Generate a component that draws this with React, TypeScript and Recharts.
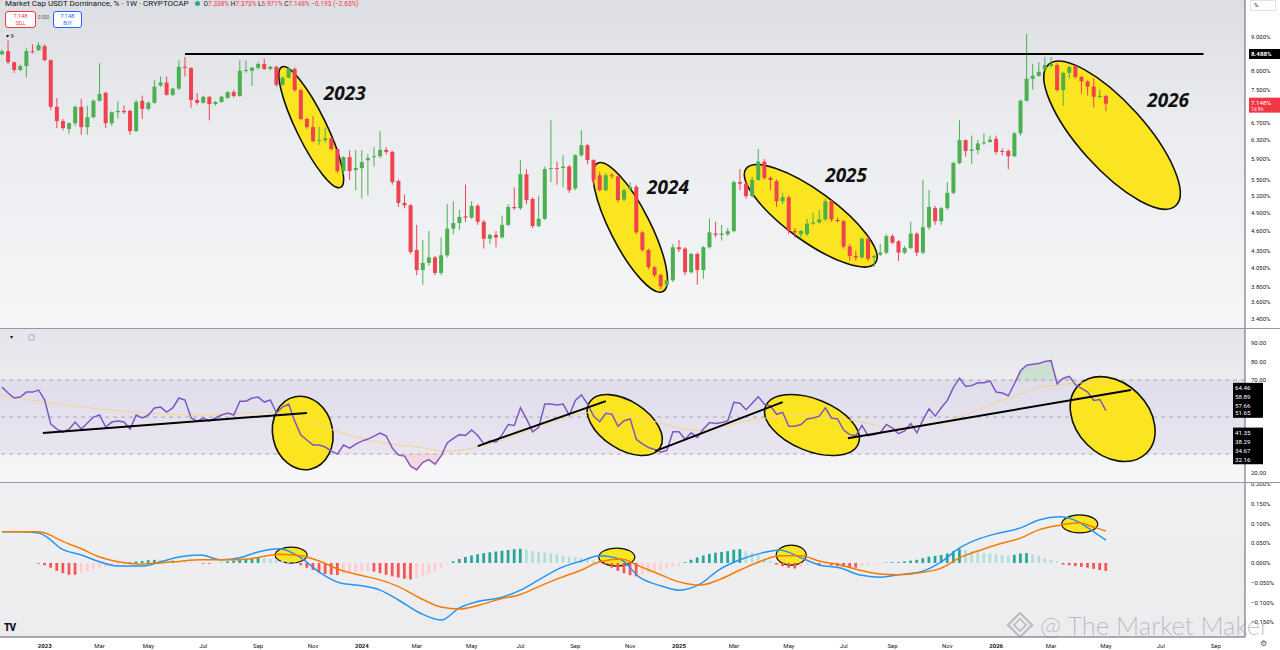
import React from "react";
import {
  Area,
  Bar,
  Cell,
  ComposedChart,
  Line,
  ReferenceArea,
  ReferenceDot,
  ReferenceLine,
  XAxis,
  YAxis,
} from "recharts";

// weekly bars, week 0 = 2 Jan 2023, first row = week -7 (14 Nov 2022)
const FIRST_WEEK = -7;

// [open, high, low, close] in %
const ohlc: [number, number, number, number][] = [
  [8.48, 8.62, 8.45, 8.57], [8.57, 8.9, 8.2, 8.25], [8.25, 8.27, 7.95, 8.03], [8.03, 8.18, 8.0, 8.14],
  [8.14, 8.66, 7.82, 8.57], [8.57, 8.78, 8.5, 8.54], [8.6, 8.84, 8.58, 8.75],
  [8.72, 8.78, 8.28, 8.31], [8.31, 8.33, 6.99, 7.07], [7.07, 7.29, 6.57, 6.73], [6.73, 6.78, 6.52, 6.57],
  [6.55, 6.7, 6.44, 6.68], [6.68, 7.1, 6.62, 7.07], [7.07, 7.27, 6.42, 6.59], [6.59, 7.1, 6.42, 6.82],
  [6.82, 7.25, 6.8, 7.22], [7.22, 8.22, 7.2, 7.39], [7.42, 7.45, 6.57, 6.68], [6.68, 6.96, 6.62, 6.94],
  [6.94, 7.2, 6.8, 6.97], [6.97, 7.1, 6.9, 6.94], [6.97, 7.0, 6.42, 6.5], [6.5, 7.24, 6.48, 7.19],
  [7.22, 7.35, 6.78, 7.02], [7.02, 7.2, 6.98, 7.17], [7.17, 7.75, 7.15, 7.58], [7.61, 7.85, 7.58, 7.69],
  [7.69, 7.85, 7.35, 7.37], [7.37, 7.55, 7.34, 7.53], [7.53, 8.3, 7.5, 8.12], [8.12, 8.4, 7.85, 8.09],
  [8.09, 8.1, 7.05, 7.24], [7.24, 7.42, 7.12, 7.17], [7.17, 7.35, 7.15, 7.32], [7.32, 7.33, 6.75, 7.14],
  [7.14, 7.21, 7.1, 7.19], [7.19, 7.34, 7.17, 7.32], [7.29, 7.46, 7.27, 7.44], [7.44, 7.5, 7.3, 7.34],
  [7.34, 8.3, 7.32, 8.01], [8.01, 8.3, 7.95, 8.03], [8.01, 8.12, 7.6, 8.09], [8.09, 8.25, 8.05, 8.2],
  [8.2, 8.35, 8.03, 8.06], [8.06, 8.14, 8.02, 8.12], [8.12, 8.15, 7.58, 7.63], [7.63, 7.85, 7.6, 7.82],
  [7.82, 8.12, 7.8, 8.06], [8.06, 8.1, 7.45, 7.49], [7.49, 7.52, 6.75, 6.78], [6.78, 6.8, 6.55, 6.59],
  [6.59, 6.85, 6.25, 6.28], [6.28, 6.6, 6.2, 6.3], [6.3, 6.58, 6.25, 6.34], [6.34, 6.37, 6.08, 6.11],
  [6.11, 6.13, 5.62, 5.66], [5.66, 5.96, 5.6, 5.94], [5.94, 6.08, 5.49, 5.66], [5.68, 6.09, 5.3, 5.72],
  [5.72, 6.09, 5.15, 5.84], [5.88, 6.0, 5.2, 5.92], [5.94, 6.15, 5.75, 5.96], [5.96, 6.5, 5.92, 6.09],
  [6.09, 6.15, 6.0, 6.05], [6.05, 6.07, 5.4, 5.45], [5.47, 5.5, 5.0, 5.07], [5.07, 5.22, 4.98, 5.03],
  [5.03, 5.05, 4.25, 4.28], [4.31, 4.7, 3.95, 4.02], [4.02, 4.46, 3.82, 4.12], [4.12, 4.6, 4.08, 4.2],
  [4.2, 4.22, 3.95, 3.98], [3.98, 4.5, 3.95, 4.23], [4.23, 5.05, 4.2, 4.64], [4.64, 5.1, 4.55, 4.73],
  [4.73, 4.95, 4.62, 4.83], [4.84, 5.4, 4.75, 4.82], [4.82, 5.1, 4.8, 5.02], [5.02, 5.05, 4.7, 4.75],
  [4.75, 4.78, 4.33, 4.48], [4.48, 4.56, 4.4, 4.54], [4.54, 4.6, 4.35, 4.5], [4.5, 4.85, 4.48, 4.7],
  [4.7, 5.05, 4.68, 5.0], [5.0, 5.35, 4.95, 4.98], [4.98, 5.88, 4.95, 5.6], [5.6, 5.7, 5.05, 5.12],
  [5.14, 5.17, 4.65, 4.68], [4.68, 5.2, 4.66, 4.8], [4.8, 5.75, 4.78, 5.7], [5.7, 6.75, 5.45, 5.72],
  [5.72, 5.85, 5.4, 5.7], [5.72, 5.98, 5.35, 5.75], [5.75, 5.78, 5.25, 5.3], [5.33, 6.0, 5.3, 5.98],
  [5.98, 6.52, 5.95, 6.19], [6.19, 6.22, 5.8, 5.88], [5.88, 5.9, 5.4, 5.49], [5.58, 5.65, 5.28, 5.3],
  [5.3, 5.62, 5.28, 5.58], [5.58, 5.62, 5.52, 5.56], [5.56, 5.58, 5.08, 5.12], [5.13, 5.33, 5.1, 5.3],
  [5.32, 5.45, 5.3, 5.36], [5.36, 5.4, 4.55, 4.58], [4.58, 4.6, 4.28, 4.31], [4.31, 4.33, 4.03, 4.06],
  [4.06, 4.08, 3.92, 3.95], [3.95, 3.97, 3.76, 3.8], [3.82, 3.9, 3.8, 3.88], [3.88, 4.4, 3.86, 4.35],
  [4.35, 4.46, 4.28, 4.32], [4.33, 4.35, 3.95, 3.99], [3.99, 4.27, 3.97, 4.25], [4.25, 4.27, 3.82, 4.02],
  [4.02, 4.37, 3.9, 4.35], [4.35, 4.8, 4.33, 4.58], [4.56, 4.75, 4.5, 4.54], [4.54, 4.7, 4.45, 4.56],
  [4.55, 4.65, 4.52, 4.6], [4.6, 5.48, 4.58, 5.45], [5.45, 5.7, 5.3, 5.42], [5.42, 5.45, 5.15, 5.19],
  [5.19, 5.55, 5.17, 5.49], [5.49, 6.11, 5.47, 5.85], [5.85, 5.9, 5.5, 5.53], [5.53, 5.56, 5.3, 5.49],
  [5.47, 5.5, 5.0, 5.1], [5.1, 5.25, 5.05, 5.17], [5.17, 5.2, 4.55, 4.6], [4.6, 4.65, 4.5, 4.58],
  [4.55, 4.62, 4.5, 4.6], [4.55, 4.8, 4.52, 4.72], [4.72, 4.9, 4.7, 4.74], [4.74, 4.95, 4.72, 4.79],
  [4.79, 5.15, 4.76, 5.1], [5.1, 5.12, 4.75, 4.79], [4.78, 4.82, 4.74, 4.76], [4.76, 4.78, 4.33, 4.36],
  [4.36, 4.4, 4.15, 4.22], [4.22, 4.3, 4.15, 4.2], [4.2, 4.5, 4.18, 4.48], [4.48, 4.52, 4.15, 4.18],
  [4.2, 4.24, 4.06, 4.22], [4.24, 4.4, 4.22, 4.27], [4.27, 4.55, 4.25, 4.52], [4.52, 4.55, 4.4, 4.42],
  [4.44, 4.46, 4.15, 4.27], [4.27, 4.37, 4.25, 4.34], [4.34, 4.75, 4.32, 4.56], [4.56, 4.58, 4.22, 4.27],
  [4.27, 5.49, 4.25, 4.66], [4.66, 5.3, 4.62, 5.0], [4.98, 5.02, 4.7, 4.76], [4.76, 5.0, 4.7, 4.98],
  [4.98, 5.45, 4.95, 5.25], [5.25, 5.85, 5.22, 5.82], [5.82, 6.75, 5.8, 6.3], [6.3, 6.32, 5.95, 6.07],
  [6.07, 6.4, 5.8, 6.1], [6.09, 6.3, 6.0, 6.23], [6.23, 6.45, 6.2, 6.25], [6.26, 6.4, 6.25, 6.31],
  [6.33, 6.4, 6.0, 6.05], [6.07, 6.12, 5.98, 6.05], [6.07, 6.1, 5.7, 5.96], [5.96, 6.48, 5.94, 6.45],
  [6.45, 7.25, 6.4, 7.22], [7.22, 9.1, 7.2, 7.79], [7.79, 8.2, 7.5, 7.87], [7.87, 8.25, 7.85, 7.98],
  [8.05, 8.4, 8.0, 8.17], [8.15, 8.4, 8.1, 8.2], [8.17, 8.22, 7.45, 7.49], [7.49, 7.98, 7.1, 7.95],
  [7.95, 8.15, 7.8, 8.11], [8.14, 8.18, 7.8, 7.84], [7.84, 7.87, 7.4, 7.72], [7.72, 7.75, 7.35, 7.58],
  [7.58, 7.8, 7.05, 7.32], [7.32, 7.5, 7.28, 7.34], [7.338, 7.373, 6.971, 7.148],
];

// RSI(14), one value per week
const rsi: number[] = [
  66.2, 63.0, 60.3, 60.8, 63.5, 63.5, 64.6,
  59.2, 46.2, 43.5, 41.9, 43.5, 47.3, 43.5, 46.8, 50.0, 51.1,
  44.6, 47.3, 47.8, 47.3, 43.5, 51.1, 49.5, 51.1, 54.9, 55.4,
  52.7, 54.9, 60.3, 59.2, 49.5, 47.8, 49.5, 47.8, 49.5, 51.1,
  52.2, 51.1, 58.6, 58.6, 60.3, 60.8, 58.1, 59.2, 52.2, 55.4,
  57.0, 47.8, 40.3, 37.6, 34.9, 34.9, 33.8, 31.6, 30.0, 34.9,
  33.2, 35.4, 37.0, 38.1, 39.7, 41.4, 39.7, 33.2, 29.5, 28.9,
  23.5, 21.5, 25.5, 27.0, 24.5, 29.0, 36.0, 38.5, 40.5, 40.0,
  43.0, 40.0, 35.5, 37.0, 36.5, 40.5, 46.0, 45.5, 55.0, 49.0,
  42.0, 44.5, 57.0, 57.0, 56.5, 57.0, 51.0, 59.0, 62.0, 57.0,
  50.5, 47.5, 52.0, 51.5, 45.0, 48.0, 49.0, 38.0, 35.5, 33.5,
  32.5, 31.0, 32.0, 42.0, 42.0, 38.0, 41.5, 39.0, 43.5, 47.0,
  46.5, 47.0, 48.0, 58.0, 57.5, 54.0, 57.5, 61.0, 57.0, 56.0,
  51.5, 52.5, 45.0, 45.0, 46.0, 49.0, 49.5, 50.5, 55.0, 49.5,
  49.0, 43.0, 40.5, 40.0, 45.5, 40.0, 40.5, 41.5, 46.0, 44.0,
  41.0, 42.5, 46.5, 41.5, 48.5, 54.5, 50.5, 55.0, 59.0, 66.0,
  71.0, 66.5, 67.0, 68.5, 68.5, 69.5, 63.5, 63.0, 61.5, 68.0,
  75.0, 78.0, 78.5, 79.0, 80.0, 80.5, 68.0, 71.0, 72.0, 67.5,
  65.5, 63.5, 59.0, 59.5, 53.5,
];

// RSI-based moving average, read at a few weeks
const rsiMaWeeks = [-7.3, 3.6, 14.5, 25.5, 36.4, 41.9, 47.3, 52.8, 61, 66, 75, 84, 91, 99, 107, 116, 124, 132, 140, 148, 157, 165, 174];
const rsiMaValues = [61.9, 56.5, 52.7, 51.1, 52.7, 49.5, 43.0, 37.6, 33.8, 31.5, 37.6, 48.4, 53.0, 48.4, 43.0, 48.4, 51.1, 48.4, 44.0, 48.0, 59.0, 67.0, 69.0];

// MACD (12,26,9) lines, read at a few weeks
const macdWeeks = [-7, -4, -1, 1, 2.5, 6, 9, 12, 16, 19, 22, 25.5, 29, 32, 35, 38.5, 42, 45, 48.5, 52, 55, 58, 61.5, 65, 68, 71.5, 74.5, 78, 81, 84.5, 88, 91, 94.5, 97.5, 101, 104, 107.5, 110.5, 114, 117.5, 120.5, 124, 127, 130.5, 133.5, 137, 140, 143.5, 147, 150, 153.5, 156.5, 160, 163, 166.5, 169.5, 172, 174];
const macdLine = [0.079, 0.079, 0.076, 0.058, 0.038, 0.02, 0.003, -0.008, -0.008, 0.003, 0.015, 0.02, 0.008, 0.013, 0.028, 0.036, 0.013, -0.023, -0.051, -0.058, -0.069, -0.094, -0.127, -0.145, -0.114, -0.096, -0.089, -0.069, -0.043, -0.013, 0.005, 0.018, 0.008, -0.036, -0.058, -0.069, -0.053, -0.018, 0.008, 0.025, 0.033, 0.013, -0.005, -0.013, -0.03, -0.036, -0.03, -0.023, 0.003, 0.038, 0.063, 0.076, 0.089, 0.109, 0.117, 0.104, 0.079, 0.058];
const signalLine = [0.079, 0.079, 0.079, 0.07, 0.058, 0.036, 0.015, 0.003, -0.003, 0.0, 0.004, 0.008, 0.008, 0.008, 0.014, 0.022, 0.018, 0.005, -0.018, -0.032, -0.043, -0.06, -0.089, -0.112, -0.117, -0.106, -0.092, -0.08, -0.06, -0.038, -0.018, 0.003, 0.01, -0.008, -0.03, -0.048, -0.056, -0.043, -0.018, 0.005, 0.018, 0.018, 0.005, -0.005, -0.018, -0.028, -0.03, -0.025, -0.013, 0.013, 0.033, 0.048, 0.063, 0.084, 0.096, 0.102, 0.091, 0.081];

// MACD histogram, one value per week
const histogram: number[] = [
  0, 0, 0, 0, 0, 0, -0.002,
  -0.006, -0.012, -0.02, -0.026, -0.03, -0.03, -0.027, -0.022, -0.016, -0.012,
  -0.01, -0.008, -0.006, -0.003, 0.002, 0.004, 0.005, 0.007, 0.008, 0.007,
  0.006, 0.006, 0.005, 0.004, 0.002, 0.001, -0.002, -0.002, -0.001, 0.001,
  0.004, 0.006, 0.009, 0.011, 0.012, 0.013, 0.012, 0.011, 0.009, 0.007,
  0.004, 0.001, -0.006, -0.012, -0.018, -0.024, -0.028, -0.03, -0.031, -0.028,
  -0.025, -0.022, -0.02, -0.019, -0.022, -0.026, -0.03, -0.034, -0.037, -0.04,
  -0.042, -0.038, -0.034, -0.028, -0.02, -0.012, -0.004, 0.004, 0.01, 0.015,
  0.019, 0.022, 0.025, 0.027, 0.029, 0.031, 0.033, 0.035, 0.036, 0.034,
  0.03, 0.028, 0.027, 0.025, 0.022, 0.019, 0.016, 0.014, 0.012, 0.009,
  0.006, 0.003, -0.004, -0.012, -0.02, -0.026, -0.031, -0.034, -0.03, -0.026,
  -0.022, -0.018, -0.014, -0.01, -0.006, 0.002, 0.008, 0.014, 0.019, 0.023,
  0.026, 0.028, 0.03, 0.034, 0.035, 0.03, 0.026, 0.02, 0.012, 0.005,
  -0.004, -0.008, -0.012, -0.014, -0.01, -0.006, -0.004, -0.006, -0.004, -0.006,
  -0.008, -0.01, -0.012, -0.012, -0.008, -0.006, -0.004, -0.002, 0.001, 0.002,
  0.002, 0.004, 0.006, 0.008, 0.012, 0.016, 0.018, 0.02, 0.024, 0.03,
  0.035, 0.033, 0.03, 0.027, 0.025, 0.024, 0.022, 0.02, 0.019, 0.021,
  0.024, 0.025, 0.022, 0.018, 0.012, 0.008, 0.004, -0.004, -0.006, -0.008,
  -0.01, -0.012, -0.015, -0.018, -0.02,
];

// axis ticks
const xTickWeeks = [0, 9, 17, 26, 35, 44, 52, 61, 70, 78, 87, 96, 104, 113, 122, 131, 139, 148, 156, 165, 174, 183, 192];
const xTickLabels = ["2023", "Mar", "May", "Jul", "Sep", "Nov", "2024", "Mar", "May", "Jul", "Sep", "Nov", "2025", "Mar", "May", "Jul", "Sep", "Nov", "2026", "Mar", "May", "Jul", "Sep"];
const priceTicks = [9.0, 8.488, 8.0, 7.5, 7.148, 6.7, 6.3, 5.9, 5.5, 5.2, 4.9, 4.6, 4.3, 4.05, 3.8, 3.6, 3.4];
const rsiTicks = [90, 80, 70, 20];
const macdTicks = [0.2, 0.15, 0.1, 0.05, 0, -0.05, -0.1, -0.15];

// resistance line and last price
const LINE_LEVEL = 8.488;
const LINE_FROM = 23;
const LINE_TO = 190;
const LAST_PRICE = 7.148;

// RSI trend lines [w1, v1, w2, v2]
const rsiTrends = [
  [-0.3, 41.4, 43.0, 52.2],
  [71.0, 34.3, 92.0, 58.6],
  [100.1, 31.6, 121.0, 58.1],
  [131.7, 38.6, 178.1, 64.6],
];

// right-axis value badges on the RSI pane
const rsiBadgeAt = [65.8, 61.0, 56.1, 52.3, 41.6, 36.8, 32.0, 27.2];
const rsiBadgeText = ["64.46", "58.89", "57.66", "51.65", "41.35", "38.29", "34.67", "32.16"];

// yellow marks: [week, value, rx, ry, rotation]
const priceMarks = [
  [43.7, 6.59, 15, 67, -26],
  [96.0, 4.66, 20, 72, -27],
  [125.6, 4.85, 80, 25, 36],
  [175.0, 6.41, 33, 95, -42],
];
const yearNotes = [
  [49.2, 7.36, "2023"],
  [102.2, 5.32, "2024"],
  [131.4, 5.54, "2025"],
  [184.2, 7.19, "2026"],
];
const rsiMarks = [
  [42.3, 41.4, 30, 37, -12],
  [95.1, 45.7, 42, 24, 33],
  [125.8, 45.7, 50, 26, 22],
  [175.1, 48.9, 48, 36, 45],
];
const macdMarks = [
  [40.4, 0.02, 16, 8, 0],
  [93.8, 0.015, 18, 9, 0],
  [122.4, 0.02, 15, 10, 0],
  [169.7, 0.099, 18, 9, 0],
];

const X_MIN = -7.33;
const X_MAX = 196.8;
const W = 1280;
const AXIS_W = 35;

const GREEN = "#4caf50";
const RED = "#ef4350";
const YELLOW = "#fbe420";
const INK = "#131722";

const candleData = ohlc.map(([open, high, low, close], i) => ({
  w: FIRST_WEEK + i,
  open,
  high,
  low,
  close,
}));
const rsiData = rsi.map((v, i) => ({ w: FIRST_WEEK + i, rsi: v }));
const rsiMaData = rsiMaWeeks.map((w, i) => ({ w, ma: rsiMaValues[i] }));
const macdData = macdWeeks.map((w, i) => ({ w, macd: macdLine[i], signal: signalLine[i] }));
const histData = histogram.map((v, i) => {
  const prev = i > 0 ? histogram[i - 1] : 0;
  let color;
  if (v >= 0) color = v >= prev ? "#26a69a" : "#b2dfdb";
  else color = v <= prev ? "#ff5252" : "#ffcdd2";
  return { w: FIRST_WEEK + i, hist: v, color };
});

function Candle(props: any) {
  const { x, y, width, height, payload } = props;
  if (!payload || width == null) return null;
  const top = Math.min(y, y + height);
  const h = Math.abs(height);
  const { open, close, high, low } = payload;
  const color = close >= open ? GREEN : RED;
  const span = Math.log(high) - Math.log(low);
  const py = (v: number) => (span > 0 ? top + (h * (Math.log(high) - Math.log(v))) / span : top);
  const cx = x + width / 2;
  const b1 = py(Math.max(open, close));
  const b2 = py(Math.min(open, close));
  return (
    <g>
      <line x1={cx} x2={cx} y1={top} y2={top + h} stroke={color} strokeWidth={1} />
      <rect x={x} y={b1} width={width} height={Math.max(1, b2 - b1)} fill={color} />
    </g>
  );
}

const ellipse = (rx: number, ry: number, rot: number, sw = 1.6) => (p: any) => (
  <ellipse
    cx={p.cx}
    cy={p.cy}
    rx={rx}
    ry={ry}
    transform={`rotate(${rot} ${p.cx} ${p.cy})`}
    fill={YELLOW}
    stroke="#111"
    strokeWidth={sw}
  />
);

const yearText = (label: string) => (p: any) => (
  <text
    x={p.cx}
    y={p.cy}
    textAnchor="middle"
    dominantBaseline="middle"
    fontSize={19}
    fontWeight={700}
    fontStyle="italic"
    fontFamily="'Open Sans', 'Noto Sans', sans-serif"
    fill="#111"
  >
    {label}
  </text>
);

function PriceTick(props: any) {
  const { x, y, payload } = props;
  const v = payload.value;
  const tx = x - 2;
  if (v === LINE_LEVEL) {
    return (
      <g>
        <rect x={tx - 2} y={y - 5} width={32} height={10} fill="#000" />
        <text x={tx} y={y + 2.3} fontSize={6.2} fill="#fff" fontWeight={700}>
          {v.toFixed(3)}%
        </text>
      </g>
    );
  }
  if (v === LAST_PRICE) {
    return (
      <g>
        <rect x={tx - 2} y={y - 6} width={32} height={15} fill="#f23645" />
        <text x={tx} y={y + 1} fontSize={6.2} fill="#fff">
          {v.toFixed(3)}%
        </text>
        <text x={tx} y={y + 7} fontSize={5} fill="#ffe0e0">
          1d 8h
        </text>
      </g>
    );
  }
  return (
    <text x={tx} y={y + 2.2} fontSize={6} fill={INK}>
      {v.toFixed(3)}%
    </text>
  );
}

function RsiTick(props: any) {
  const { x, y, payload } = props;
  return (
    <text x={x - 2} y={y + 2.2} fontSize={6} fill={INK}>
      {payload.value.toFixed(2)}
    </text>
  );
}

function BadgeTick(props: any) {
  const { x, y, index } = props;
  return (
    <g>
      <rect x={x - 4} y={y - 5} width={30} height={10} fill="#000" />
      <text x={x - 2} y={y + 2.3} fontSize={6.2} fill="#fff">
        {rsiBadgeText[index]}
      </text>
    </g>
  );
}

function MacdTick(props: any) {
  const { x, y, payload } = props;
  const v = payload.value;
  const s = (v < 0 ? "\u2212" : "") + Math.abs(v).toFixed(3) + "%";
  return (
    <text x={x - 2} y={y + 2.2} fontSize={6} fill={INK}>
      {s}
    </text>
  );
}

function DateTick(props: any) {
  const { x, y, index } = props;
  const label = xTickLabels[index];
  const year = /^\d{4}$/.test(label);
  return (
    <text x={x} y={y + 3} textAnchor="middle" fontSize={6} fontWeight={year ? 700 : 400} fill={INK}>
      {label}
    </text>
  );
}

const xAxisHidden = (
  <XAxis dataKey="w" type="number" domain={[X_MIN, X_MAX]} allowDataOverflow hide />
);

function PriceChart() {
  return (
    <ComposedChart width={W} height={328} data={candleData} margin={{ top: 0, right: 0, bottom: 0, left: 0 }}>
      {xAxisHidden}
      <YAxis
        orientation="right"
        width={AXIS_W}
        scale="log"
        domain={[3.29, 10.23]}
        allowDataOverflow
        ticks={priceTicks}
        interval={0}
        tick={<PriceTick />}
        tickLine={false}
        axisLine={{ stroke: "#5d606b" }}
      />
      {priceMarks.map(([w, v, rx, ry, rot], i) => (
        <ReferenceDot key={`pm${i}`} x={w} y={v} r={1} zIndex={-10} shape={ellipse(rx, ry, rot)} />
      ))}
      <Bar
        dataKey={(d: any) => [d.low, d.high]}
        barSize={4}
        isAnimationActive={false}
        shape={(p: any) => <Candle {...p} />}
      />
      <ReferenceLine
        segment={[
          { x: LINE_FROM, y: LINE_LEVEL },
          { x: LINE_TO, y: LINE_LEVEL },
        ]}
        stroke="#000"
        strokeWidth={2}
        zIndex={800}
      />
      {yearNotes.map(([w, v, label], i) => (
        <ReferenceDot
          key={`yn${i}`}
          x={w as number}
          y={v as number}
          r={1}
          zIndex={900}
          shape={yearText(label as string)}
        />
      ))}
    </ComposedChart>
  );
}

function RsiChart() {
  return (
    <ComposedChart width={W} height={153} data={rsiData} margin={{ top: 0, right: 0, bottom: 0, left: 0 }}>
      {xAxisHidden}
      <YAxis
        yAxisId="r"
        orientation="right"
        width={AXIS_W}
        domain={[14.9, 97.6]}
        allowDataOverflow
        ticks={rsiTicks}
        interval={0}
        tick={<RsiTick />}
        tickLine={false}
        axisLine={{ stroke: "#5d606b" }}
      />
      <YAxis
        yAxisId="b"
        orientation="right"
        width={AXIS_W}
        domain={[14.9, 97.6]}
        allowDataOverflow
        ticks={rsiBadgeAt}
        interval={0}
        tick={<BadgeTick />}
        tickLine={false}
        axisLine={false}
        mirror
      />
      <ReferenceArea yAxisId="r" y1={30} y2={70} fill="#7e57c2" fillOpacity={0.09} stroke="none" zIndex={-30} />
      {[70, 50, 30].map((v) => (
        <ReferenceLine
          key={`rl${v}`}
          yAxisId="r"
          y={v}
          stroke="#787b86"
          strokeOpacity={0.55}
          strokeDasharray="4 4"
          zIndex={-20}
        />
      ))}
      {rsiMarks.map(([w, v, rx, ry, rot], i) => (
        <ReferenceDot key={`rm${i}`} yAxisId="r" x={w} y={v} r={1} zIndex={-10} shape={ellipse(rx, ry, rot)} />
      ))}
      <Area
        yAxisId="r"
        dataKey={(d: any) => [70, Math.max(70, d.rsi)]}
        stroke="none"
        fill="#4caf50"
        fillOpacity={0.18}
        isAnimationActive={false}
      />
      <Area
        yAxisId="r"
        dataKey={(d: any) => [Math.min(30, d.rsi), 30]}
        stroke="none"
        fill="#f23645"
        fillOpacity={0.15}
        isAnimationActive={false}
      />
      <Line
        yAxisId="r"
        data={rsiMaData}
        dataKey="ma"
        type="monotone"
        stroke="#f6d58c"
        strokeWidth={1}
        dot={false}
        isAnimationActive={false}
      />
      <Line
        yAxisId="r"
        dataKey="rsi"
        stroke="#7e57c2"
        strokeWidth={1.5}
        dot={false}
        isAnimationActive={false}
      />
      {rsiTrends.map(([w1, v1, w2, v2], i) => (
        <ReferenceLine
          key={`rt${i}`}
          yAxisId="r"
          segment={[
            { x: w1, y: v1 },
            { x: w2, y: v2 },
          ]}
          stroke="#000"
          strokeWidth={2}
          zIndex={800}
        />
      ))}
    </ComposedChart>
  );
}

function MacdChart() {
  return (
    <ComposedChart width={W} height={167} data={histData} margin={{ top: 0, right: 0, bottom: 0, left: 0 }}>
      <XAxis
        dataKey="w"
        type="number"
        domain={[X_MIN, X_MAX]}
        allowDataOverflow
        ticks={xTickWeeks}
        interval={0}
        height={13}
        tick={<DateTick />}
        tickLine={false}
        axisLine={{ stroke: "#5d606b" }}
      />
      <YAxis
        orientation="right"
        width={AXIS_W}
        domain={[-0.188, 0.203]}
        allowDataOverflow
        ticks={macdTicks}
        interval={0}
        tick={<MacdTick />}
        tickLine={false}
        axisLine={{ stroke: "#5d606b" }}
      />
      {macdMarks.map(([w, v, rx, ry, rot], i) => (
        <ReferenceDot key={`mm${i}`} x={w} y={v} r={1} zIndex={-10} shape={ellipse(rx, ry, rot, 1.2)} />
      ))}
      <Bar dataKey="hist" barSize={4} isAnimationActive={false}>
        {histData.map((d, i) => (
          <Cell key={`h${i}`} fill={d.color} />
        ))}
      </Bar>
      <Line
        data={macdData}
        dataKey="macd"
        type="monotone"
        stroke="#2196f3"
        strokeWidth={1.5}
        dot={false}
        isAnimationActive={false}
      />
      <Line
        data={macdData}
        dataKey="signal"
        type="monotone"
        stroke="#f57c00"
        strokeWidth={1.5}
        dot={false}
        isAnimationActive={false}
      />
    </ComposedChart>
  );
}

function Header() {
  const red = { color: "#f23645" };
  return (
    <>
      <div style={{ position: "absolute", left: 5, top: -1, fontSize: 8, color: INK, whiteSpace: "nowrap" }}>
        Market Cap USDT Dominance, % · 1W · CRYPTOCAP
        <span
          style={{
            display: "inline-block",
            width: 5,
            height: 5,
            borderRadius: 3,
            background: "#22ab94",
            margin: "0 4px 0 6px",
          }}
        />
        <span style={{ fontSize: 6.5 }}>
          O<span style={red}>7.338%</span> H<span style={red}>7.373%</span> L<span style={red}>6.971%</span>{" "}
          C<span style={red}>7.148%</span> <span style={red}>−0.193 (−2.63%)</span>
        </span>
      </div>
      <div
        style={{
          position: "absolute",
          left: 5,
          top: 11,
          width: 29,
          height: 15,
          border: "1px solid #f23645",
          borderRadius: 3,
          background: "#fff",
          color: "#f23645",
          textAlign: "center",
          lineHeight: "7px",
          fontSize: 5.5,
        }}
      >
        <div style={{ marginTop: 1 }}>7.148</div>
        <div style={{ fontSize: 4.5 }}>SELL</div>
      </div>
      <div style={{ position: "absolute", left: 38, top: 15, fontSize: 4.5, color: "#555" }}>0.000</div>
      <div
        style={{
          position: "absolute",
          left: 53,
          top: 11,
          width: 27,
          height: 15,
          border: "1px solid #2962ff",
          borderRadius: 3,
          background: "#fff",
          color: "#2962ff",
          textAlign: "center",
          lineHeight: "7px",
          fontSize: 5.5,
        }}
      >
        <div style={{ marginTop: 1 }}>7.148</div>
        <div style={{ fontSize: 4.5 }}>BUY</div>
      </div>
      <div style={{ position: "absolute", left: 6, top: 32, fontSize: 6, color: INK }}>▾ 9</div>
      <div style={{ position: "absolute", left: 10, top: 333, fontSize: 6, color: INK }}>▾</div>
      <div
        style={{
          position: "absolute",
          left: 28,
          top: 334,
          width: 5,
          height: 5,
          borderRadius: 4,
          border: "1.5px solid #a99ce0",
        }}
      />
      <div
        style={{
          position: "absolute",
          left: 1250,
          top: 0,
          width: 26,
          height: 11,
          background: "#fff",
          border: "1px solid #e0e3eb",
          fontSize: 6,
          color: INK,
          paddingLeft: 3,
          boxSizing: "border-box",
        }}
      >
        %
      </div>
    </>
  );
}

export default function App() {
  const wm = "rgba(140,140,145,0.5)";
  return (
    <div
      style={{
        position: "relative",
        width: W,
        height: 650,
        overflow: "hidden",
        background: "#fff",
        fontFamily: "Roboto, 'Liberation Sans', sans-serif",
      }}
    >
      <style>{"body{margin:0}"}</style>
      <div
        style={{
          position: "absolute",
          left: 0,
          top: 0,
          width: W - AXIS_W,
          height: 328,
          background: "linear-gradient(#dcdee3, #eaecef 40%, #f6f6f8)",
        }}
      />
      <div
        style={{
          position: "absolute",
          left: 0,
          top: 329,
          width: W - AXIS_W,
          height: 153,
          background: "linear-gradient(#e4e5ea, #eeeef2 50%, #f7f7f9)",
        }}
      />
      <div
        style={{
          position: "absolute",
          left: 0,
          top: 483,
          width: W - AXIS_W,
          height: 154,
          background: "linear-gradient(#f0f0f3, #ececef)",
        }}
      />
      <div style={{ position: "absolute", left: 0, top: 328, width: W, height: 1, background: "#9598a1" }} />
      <div style={{ position: "absolute", left: 0, top: 482, width: W, height: 1, background: "#9598a1" }} />
      <div style={{ position: "absolute", left: 0, top: 0 }}>
        <PriceChart />
      </div>
      <div style={{ position: "absolute", left: 0, top: 329 }}>
        <RsiChart />
      </div>
      <div style={{ position: "absolute", left: 0, top: 483 }}>
        <MacdChart />
      </div>
      <Header />
      <div
        style={{
          position: "absolute",
          left: 4,
          top: 622,
          fontSize: 10,
          fontWeight: 900,
          color: INK,
          letterSpacing: -1,
        }}
      >
        TV
      </div>
      <div
        style={{
          position: "absolute",
          left: 1004,
          top: 609,
          display: "flex",
          alignItems: "center",
          color: wm,
          fontFamily: "Lato, 'Open Sans', sans-serif",
          fontWeight: 300,
          fontSize: 25.5,
          whiteSpace: "nowrap",
        }}
      >
        <svg width={32} height={32} viewBox="0 0 30 30" style={{ marginRight: 4 }}>
          <rect x={7} y={7} width={16} height={16} transform="rotate(45 15 15)" fill="none" stroke={wm} strokeWidth={2} />
          <rect x={11} y={11} width={8} height={8} transform="rotate(45 15 15)" fill="none" stroke={wm} strokeWidth={1.5} />
        </svg>
        @ The Market Maker
      </div>
      <div style={{ position: "absolute", left: 1260, top: 639, fontSize: 8, color: "#555" }}>⚙</div>
    </div>
  );
}
